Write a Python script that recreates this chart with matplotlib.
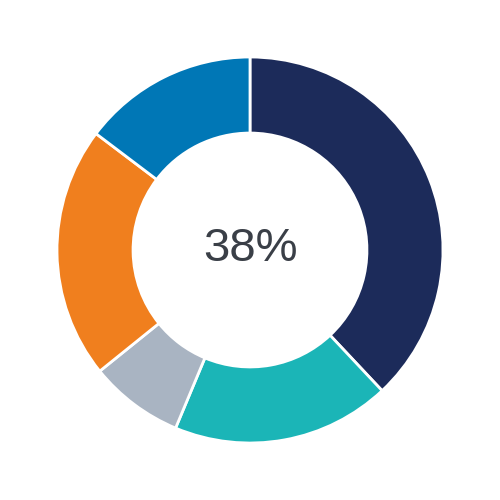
import matplotlib
matplotlib.use('Agg')
import matplotlib.pyplot as plt

labels = ['Navy', 'Teal', 'Gray', 'Orange', 'Blue']
values = [38, 18.3, 7.9, 21.1, 14.7]
colors = ['#1c2b5a', '#1bb5b7', '#a9b4c2', '#f07f1e', '#0077b6']
center_text = '38%'

fig = plt.figure(figsize=(5, 5), dpi=100)
ax = fig.add_axes([0, 0, 1, 1])
ax.pie(values, colors=colors, startangle=90, counterclock=False,
       radius=1.0,
       wedgeprops=dict(width=0.394, edgecolor='white', linewidth=2))
ax.text(0, 0.005, center_text, ha='center', va='center', fontsize=34,
        color='#3a3f47', family=['Liberation Sans', 'DejaVu Sans'])
lim = 250 / 193
ax.set_xlim(-lim, lim)
ax.set_ylim(-lim, lim)
ax.set_aspect('equal')
ax.axis('off')
fig.savefig('out.png', dpi=100)
